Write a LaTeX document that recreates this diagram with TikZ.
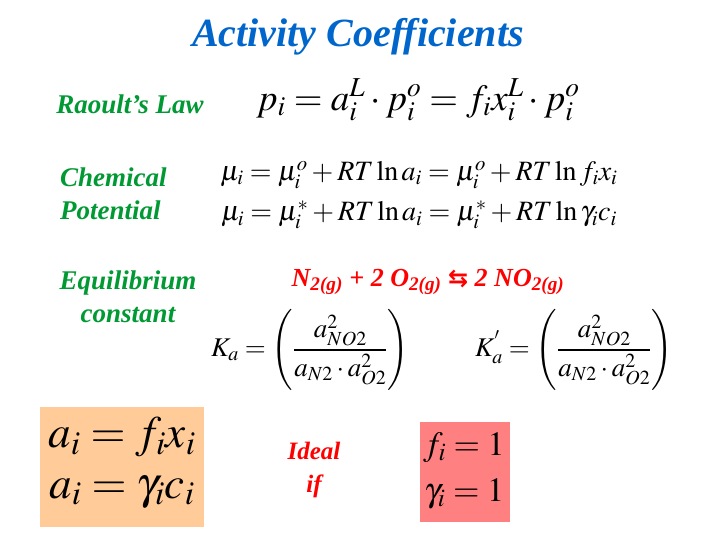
\documentclass[tikz,border=0pt]{standalone}
\usepackage{amsmath}
\usepackage{mathptmx}
\usepackage{fontspec}
\setmainfont{Liberation Serif}
\newfontfamily\djv{DejaVu Sans}
\definecolor{ttl}{RGB}{0,102,204}
\definecolor{grn}{RGB}{0,153,51}
\definecolor{rd}{RGB}{255,0,0}
\definecolor{orng}{RGB}{255,204,153}
\definecolor{pnk}{RGB}{255,128,128}
\newcommand{\fs}[1]{\fontsize{#1}{#1}\selectfont}
\tikzset{lbl/.style={text=grn,font=\fs{27}\bfseries\itshape,align=center,inner sep=0pt},
 eq/.style={inner sep=0pt,align=center}}
\begin{document}
\begin{tikzpicture}[x=1pt,y=-1pt]
\useasboundingbox (0,0) rectangle (720,540);
\node[eq,text=ttl,font=\fs{40}\bfseries\itshape] (title) at (358,37) {Activity Coefficients};
\node[lbl] (raoult) at (130,104) {Raoult’s Law};
\node[eq,font=\fs{37}] (req) at (418,100) {$p_i = a_i^L\cdot p_i^o = f_i x_i^L\cdot p_i^o$};
\node[lbl,align=left,anchor=west] (chem) at (60,194) {Chemical\\[6pt]Potential};
\node[eq,font=\fs{28}] (mu1) at (419,175) {$\mu_i = \mu_i^o + RT\ln a_i = \mu_i^o + RT\ln f_i x_i$};
\node[eq,font=\fs{28}] (mu2) at (419,215) {$\mu_i = \mu_i^* + RT\ln a_i = \mu_i^* + RT\ln \gamma_i c_i$};
\node[lbl] (equil) at (128,297) {Equilibrium\\[6pt]constant};
\node[eq,text=rd,font=\fs{26}\bfseries\itshape] (rxn) at (428,282) {N\textsubscript{2(g)} + 2 O\textsubscript{2(g)} {\djv\fs{24}⇆} 2 NO\textsubscript{2(g)}};
\node[eq,font=\fs{27}] (ka) at (310,350) {$K_a = \left(\dfrac{a_{NO2}^2}{a_{N2}\cdot a_{O2}^2}\right)$};
\node[eq,font=\fs{27}] (kap) at (574,350) {$K_a^{'} = \left(\dfrac{a_{NO2}^2}{a_{N2}\cdot a_{O2}^2}\right)$};
\fill[orng] (40,407) rectangle (204,527);
\node[eq,font=\fs{45}] (a1) at (122,437) {$a_i = f_i x_i$};
\node[eq,font=\fs{45}] (a2) at (122,492) {$a_i = \gamma_i c_i$};
\node[eq,text=rd,font=\fs{25}\bfseries\itshape] (ideal) at (314,470) {Ideal\\[8pt]if};
\fill[pnk] (420,422) rectangle (510,522);
\node[eq,font=\fs{34}] (f1) at (464,448) {$f_i = 1$};
\node[eq,font=\fs{34}] (g1) at (464,494) {$\gamma_i = 1$};
\end{tikzpicture}
\end{document}
